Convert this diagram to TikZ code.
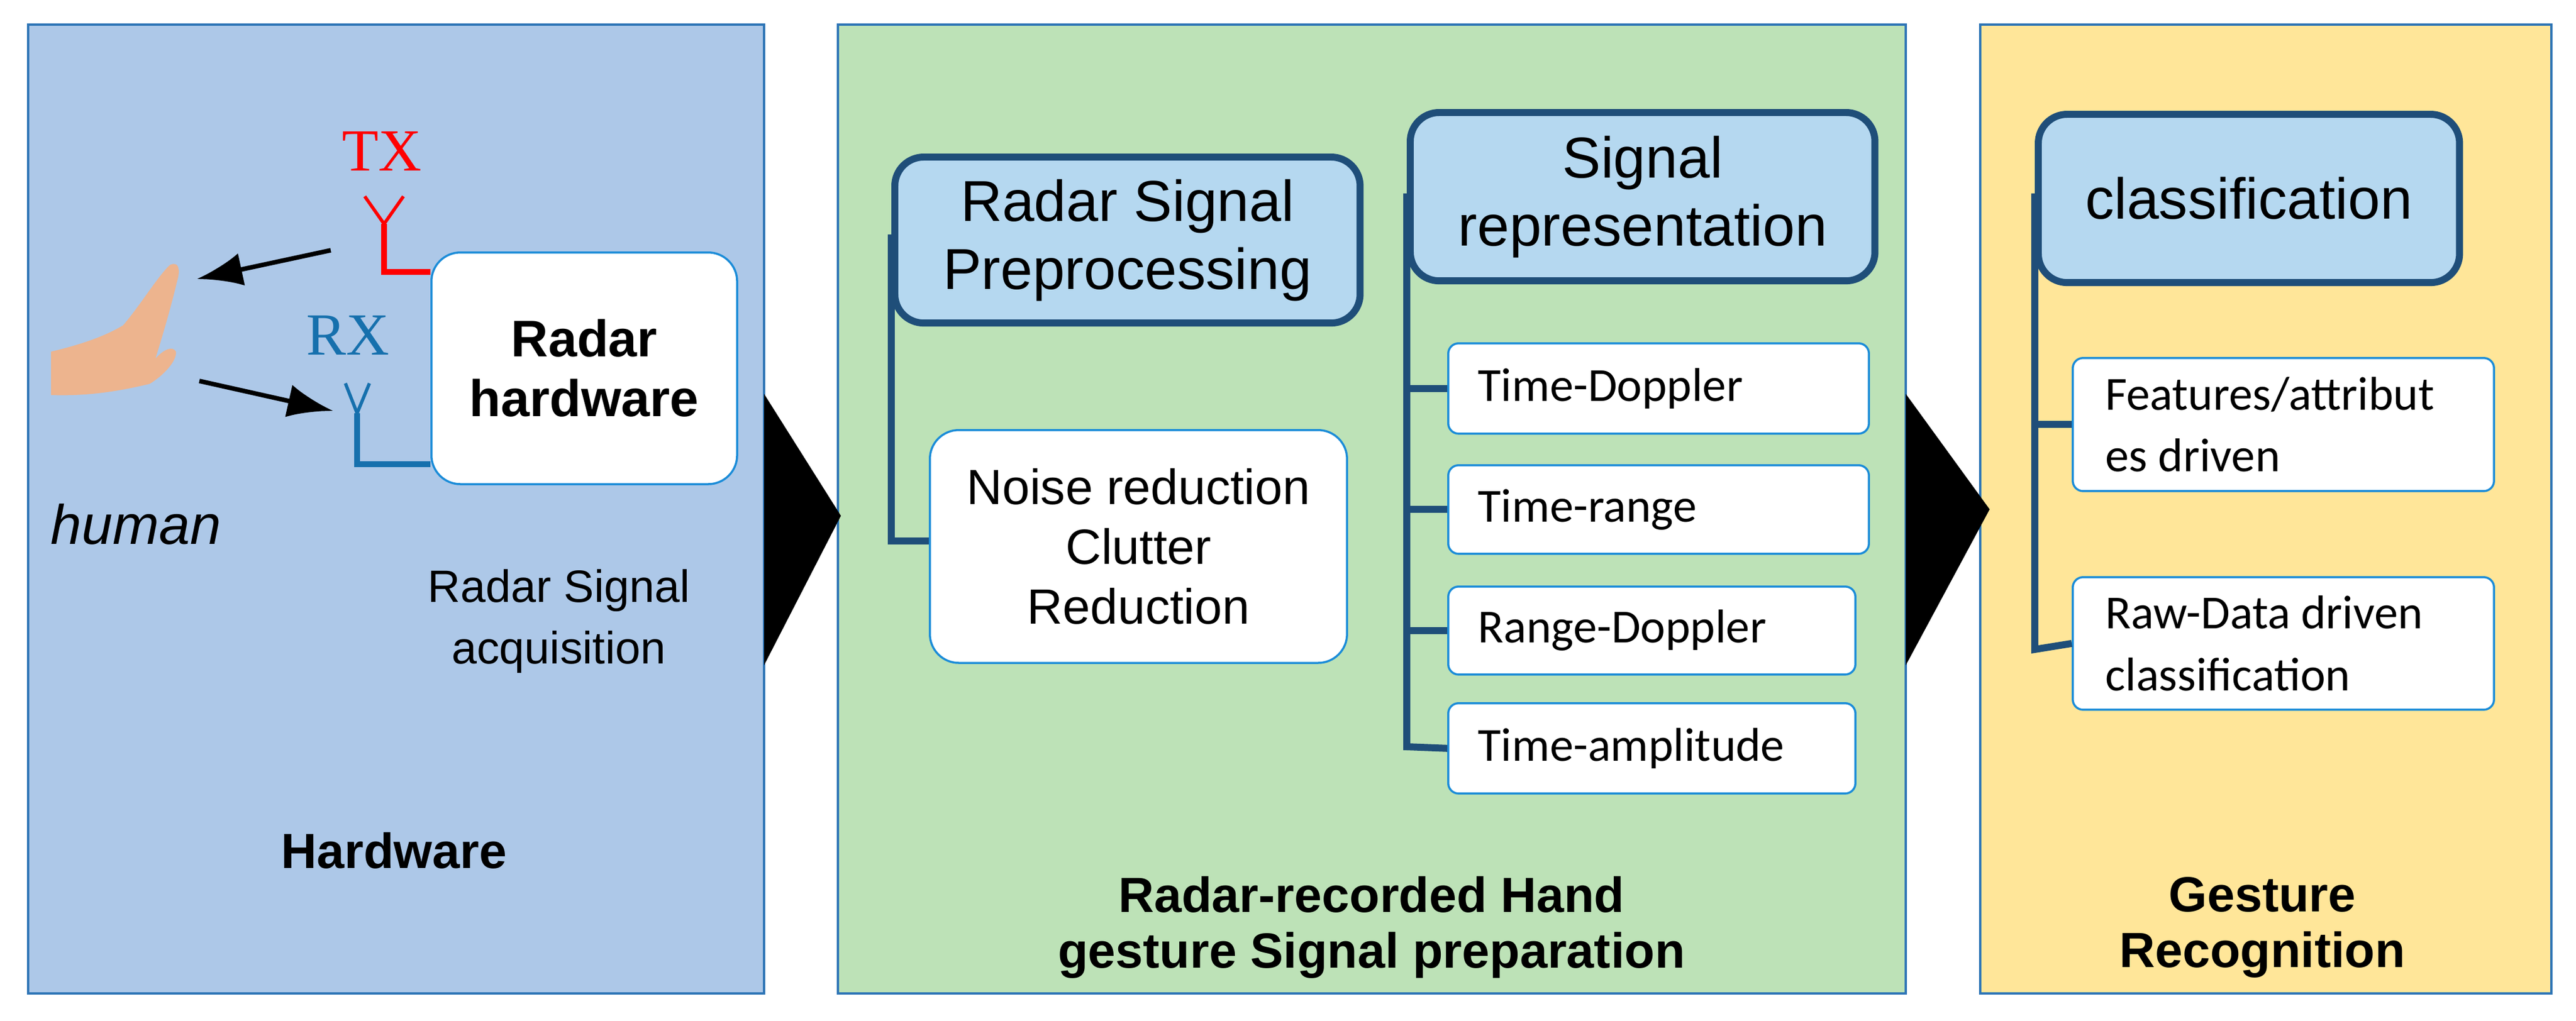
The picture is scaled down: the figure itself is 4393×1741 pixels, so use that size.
\documentclass[tikz,border=0pt]{standalone}
\usepackage{fontspec}
\usetikzlibrary{arrows.meta}
\setmainfont{Liberation Sans}
\newfontfamily\carl{Carlito}
\newfontfamily\tms{Liberation Serif}
\begin{document}
\begin{tikzpicture}[x=0.01cm,y=-0.01cm,
  panel/.style={draw=bordb,line width=1.2pt},
  head/.style={draw=headb,line width=3.4pt,fill=headf,rounded corners=14pt,inner sep=0pt,align=center,font=\fontsize{28}{33}\selectfont},
  leaf/.style={draw=leafb,line width=1pt,fill=white,rounded corners=5pt,inner sep=0pt},
  tree/.style={draw=headb,line width=3.4pt},
  big/.style={fill=black},
  ]
\definecolor{bordb}{HTML}{2E75B6}
\definecolor{headb}{HTML}{1F4E79}
\definecolor{headf}{HTML}{B5D8F0}
\definecolor{leafb}{HTML}{1B8CD8}
\definecolor{p1}{HTML}{ADC8E8}
\definecolor{p2}{HTML}{BDE2B7}
\definecolor{p3}{HTML}{FFE699}
\definecolor{skin}{HTML}{EDB48E}
\useasboundingbox (0,0) rectangle (4393,1741);
\fill[white] (0,0) rectangle (4393,1741);
% panels
\draw[panel,fill=p1] (48,42) rectangle (1303,1695);
\draw[panel,fill=p2] (1429,42) rectangle (3250,1695);
\draw[panel,fill=p3] (3377,42) rectangle (4351,1695);
% big arrows
\fill[big] (1303,672) -- (1434,880) -- (1303,1135) -- cycle;
\fill[big] (3250,672) -- (3393,869) -- (3250,1135) -- cycle;
% panel 1
\node[leaf,draw=leafb,rounded corners=14pt,minimum width=5.21cm,minimum height=3.95cm,anchor=north west,align=center,font=\bfseries\fontsize{25}{29}\selectfont] (hw) at (734,429) {Radar\\hardware};
\coordinate (txj) at (655,382);
\coordinate (rxj) at (609,705);
\draw[red,line width=1.6pt] (622,335) -- (txj) -- (688,335);
\draw[red,line width=2.6pt] (txj) -- (655,464) -- (hw.west |- 0,464);
\draw[leafb!80!black,line width=1.6pt] (589,654) -- (rxj) -- (630,654);
\draw[leafb!80!black,line width=2.6pt] (rxj) -- (609,792) -- (hw.west |- 0,792);
\node[text=red,font=\tms\fontsize{29}{29}\selectfont] (tx) at (651,258) {TX};
\node[text=leafb!80!black,font=\tms\fontsize{29}{29}\selectfont] (rx) at (593,572) {RX};
% hand
\fill[skin] (87,600) .. controls (150,585) and (185,570) .. (210,555)
  .. controls (240,520) and (270,470) .. (290,452)
  .. controls (305,445) and (308,460) .. (302,480)
  .. controls (290,530) and (275,580) .. (265,612)
  .. controls (280,595) and (295,590) .. (300,600)
  .. controls (302,615) and (280,640) .. (255,655)
  .. controls (200,668) and (150,676) .. (87,674) -- cycle;
\coordinate (hand1) at (336,476);
\coordinate (hand2) at (340,650);
\coordinate (tx0) at (564,427);
\coordinate (rx0) at (568,701);
\draw[line width=2.2pt,-{Latex[length=22pt,width=16pt]}] (tx0) -- (hand1);
\draw[line width=2.2pt,-{Latex[length=22pt,width=16pt]}] (hand2) -- (rx0);
\node[font=\itshape\fontsize{27}{27}\selectfont] (human) at (232,895) {human};
\node[align=center,font=\fontsize{22}{30}\selectfont] (acq) at (953,1060) {Radar Signal\\acquisition};
\node[font=\bfseries\fontsize{24}{24}\selectfont] (hwt) at (672,1451) {Hardware};
% panel 2
\coordinate (preT) at (1520,400);
\coordinate (repT) at (2399,330);
\node[leaf,rounded corners=14pt,minimum width=7.11cm,minimum height=3.97cm,anchor=north west,align=center,font=\fontsize{24}{29}\selectfont] (noise) at (1584,732) {Noise reduction\\Clutter\\Reduction};
\draw[tree] (preT) -- (1520,923) -- (noise.west |- 0,923);
\node[head,minimum width=7.93cm,minimum height=2.83cm,anchor=north west] (pre) at (1520,262) {Radar Signal\\Preprocessing};
\foreach \n/\t/\ya/\h/\w in {a/Time-Doppler/584/1.54/7.17,b/Time-range/792/1.51/7.17,c/Range-Doppler/999/1.50/6.94,d/Time-amplitude/1198/1.54/6.94}{
  \node[leaf,minimum width=\w cm,minimum height=\h cm,anchor=north west] (\n) at (2468,\ya) {};
  \node[anchor=west,font=\carl\fontsize{23}{23}\selectfont] at ([xshift=0.4cm]\n.west) {\t};
}
\draw[tree] (repT) -- (2399,1274) -- (d.west);
\foreach \n in {a,b,c} \draw[tree] (2399,0 |- \n.west) -- (\n.west);
\node[head,minimum width=7.92cm,minimum height=2.87cm,anchor=north west] (rep) at (2399,186) {Signal\\representation};
\node[align=center,font=\bfseries\fontsize{24}{27}\selectfont] (t2) at (2339,1582) {Radar-recorded Hand\\gesture Signal preparation};
% panel 3
\coordinate (clsT) at (3470,330);
\node[leaf,minimum width=7.18cm,minimum height=2.27cm,anchor=north west] (f1) at (3533,609) {};
\node[anchor=west,align=left,font=\carl\fontsize{23}{30}\selectfont] at ([xshift=0.45cm]f1.west) {Features/attribut\\es driven};
\node[leaf,minimum width=7.18cm,minimum height=2.26cm,anchor=north west] (f2) at (3533,983) {};
\node[anchor=west,align=left,font=\carl\fontsize{23}{30}\selectfont] at ([xshift=0.45cm]f2.west) {Raw-Data driven\\classification};
\draw[tree] (clsT) -- (3470,1108) -- (f2.west);
\draw[tree] (3470,0 |- f1.west) -- (f1.west);
\node[head,minimum width=7.18cm,minimum height=2.87cm,anchor=north west] (cls) at (3470,189) {classification};
\node[align=center,font=\bfseries\fontsize{24}{27}\selectfont] (t3) at (3858,1582) {Gesture\\Recognition};
\end{tikzpicture}
\end{document}
